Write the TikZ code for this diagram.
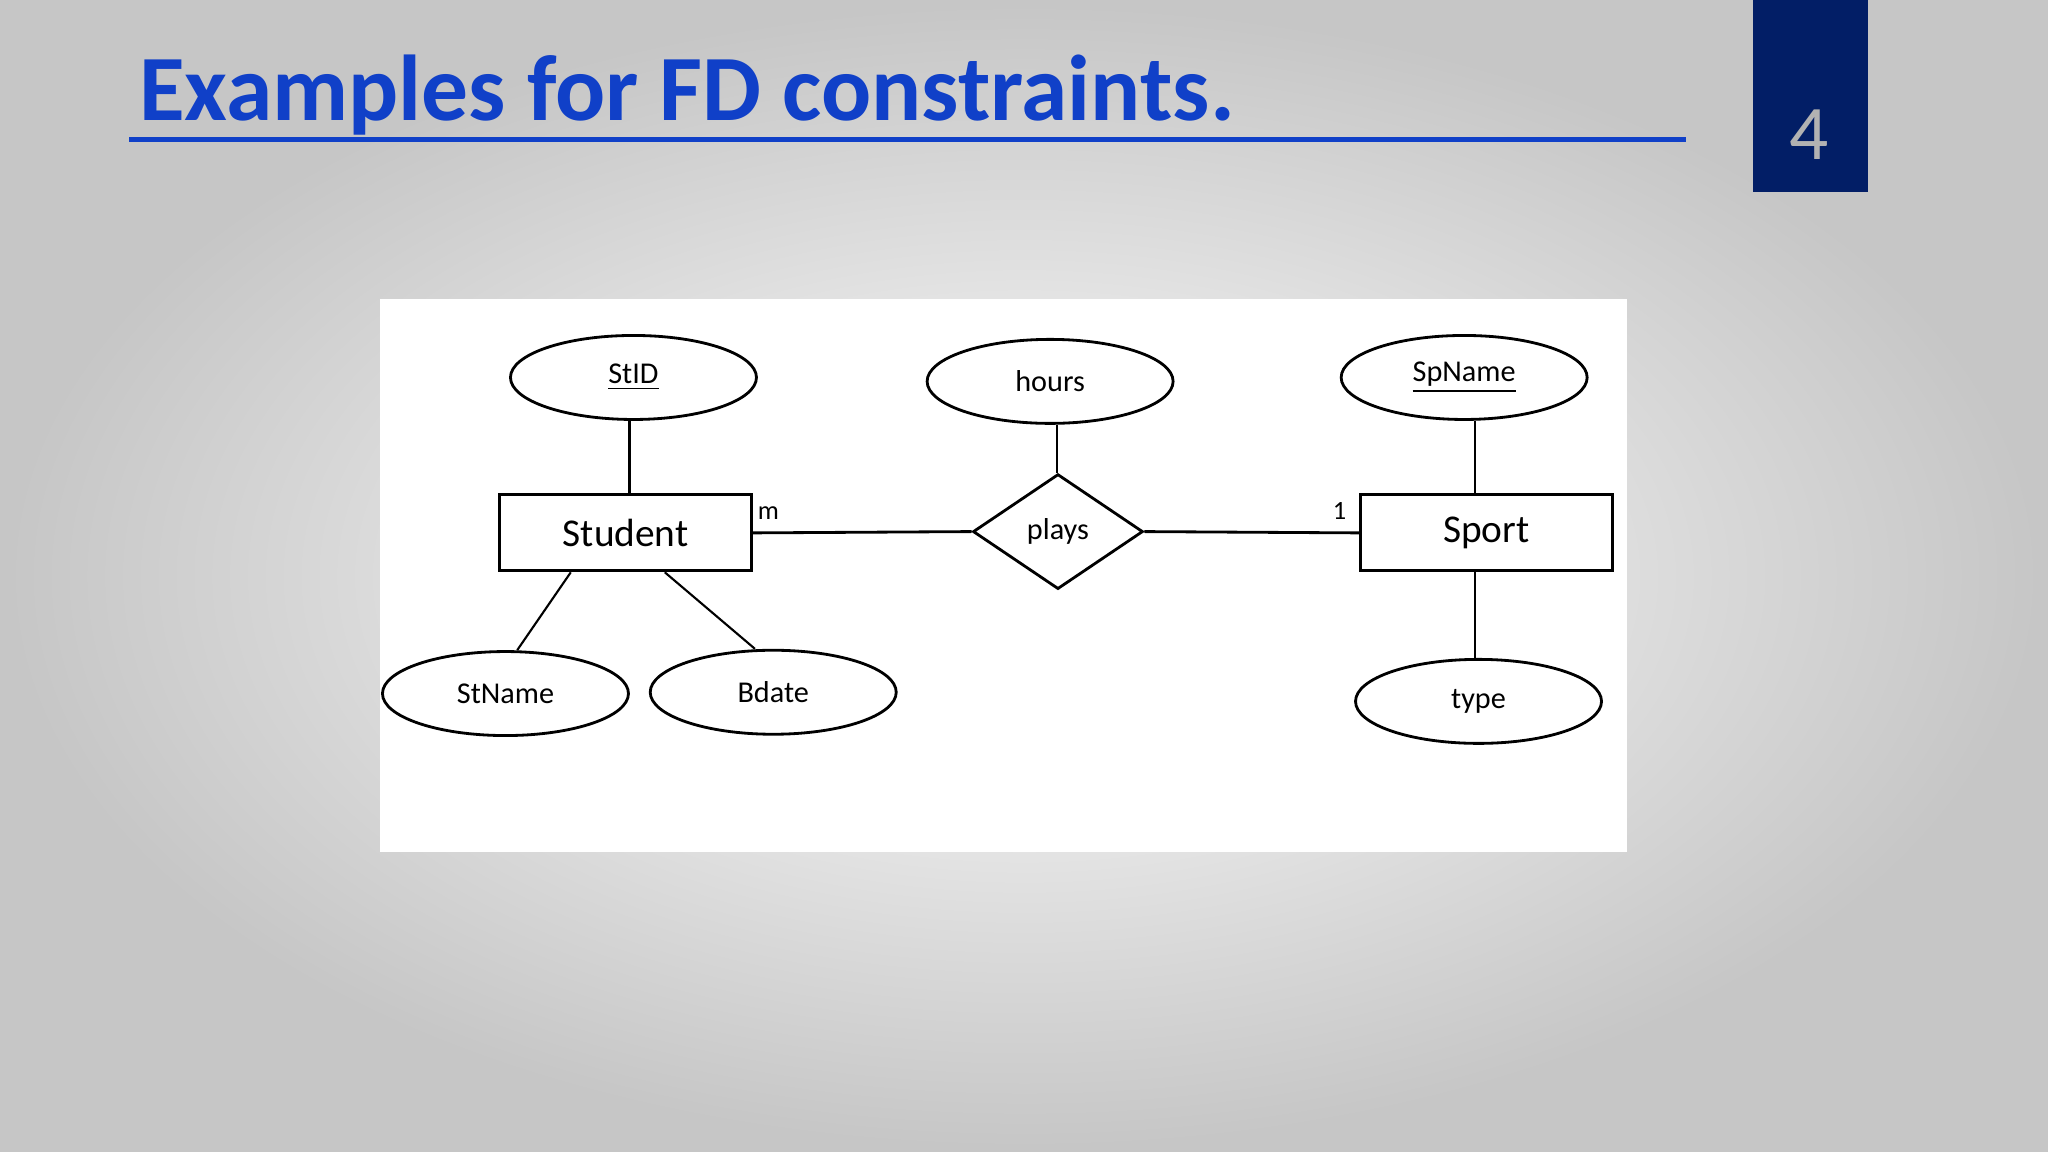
\documentclass[tikz,border=0pt]{standalone}
\usepackage{fontspec}
\setmainfont{Carlito}
\usetikzlibrary{shapes.geometric}
\definecolor{titleblue}{RGB}{16,64,200}
\definecolor{boxblue}{RGB}{2,30,102}
\begin{document}
\begin{tikzpicture}[x=0.013061cm,y=-0.013061cm,
    attr/.style={ellipse,draw=black,thick,minimum width=2.46cm,minimum height=0.84cm,inner sep=0pt,font=\fontsize{8.6}{10}\selectfont},
    entity/.style={rectangle,draw=black,thick,minimum width=2.52cm,minimum height=0.76cm,font=\fontsize{11.2}{13}\selectfont},
    rel/.style={diamond,draw=black,thick,minimum width=1.7cm,minimum height=1.15cm,inner sep=0pt,aspect=1.48,font=\fontsize{8.6}{10}\selectfont},
    link/.style={draw=black,semithick},
    strong/.style={draw=black,thick}
  ]
  \useasboundingbox (0,0) rectangle (1568,882);
  \shade[inner color=white,outer color=gray!45] (0,0) rectangle (1568,882);

  % title bar
  \node[anchor=base west,inner sep=0pt,text=titleblue,font=\fontsize{26.6}{30}\bfseries] (title) at (106,92) {Examples for FD constraints.};
  \draw[titleblue,line width=1.4pt] (99,107) -- (1291,107);
  \fill[boxblue] (1342,0) rectangle (1430,147);
  \node[text=gray!60,font=\fontsize{22}{24}\selectfont] (page) at (1385,103) {4};

  % diagram
  \fill[white] (291,229) rectangle (1246,652);
  \node[entity] (student) at (479,408) {Student};
  \node[entity] (sport) at (1138,408) {Sport};
  \node[rel] (plays) at (810,407) {plays};
  \node[attr] (stid) at (485,289) {\underline{StID}};
  \node[attr] (hours) at (804,292) {hours};
  \node[attr] (spname) at (1121,289) {\underline{SpName}};
  \node[attr] (stname) at (387,531) {StName};
  \node[attr] (bdate) at (592,530) {Bdate};
  \node[attr] (type) at (1132,537) {type};

  \draw[link] (stid.south) ++(-3,0) coordinate (a1) (a1) -- (a1 |- student.north);
  \draw[link] (hours.south) ++(5,0) coordinate (a2) (a2) -- (a2 |- plays.north);
  \draw[link] (spname.south) ++(8,0) coordinate (a3) (a3) -- (a3 |- sport.north);
  \draw[link] (student.south) ++(-42,0) coordinate (a4) (a4) -- (stname.north -| 396,0);
  \draw[link] (student.south) ++(30,0) coordinate (a5) (a5) -- (bdate.north -| 578,0);
  \draw[link] (sport.south) ++(-9,0) coordinate (a6) (a6) -- (a6 |- type.north);
  \draw[strong] (student.east) -- node[pos=0.07,above,font=\fontsize{7.5}{9}\selectfont] {m} (plays.west);
  \draw[strong] (plays.east) -- node[pos=0.91,above,font=\fontsize{7.5}{9}\selectfont] {1} (sport.west);
\end{tikzpicture}
\end{document}
